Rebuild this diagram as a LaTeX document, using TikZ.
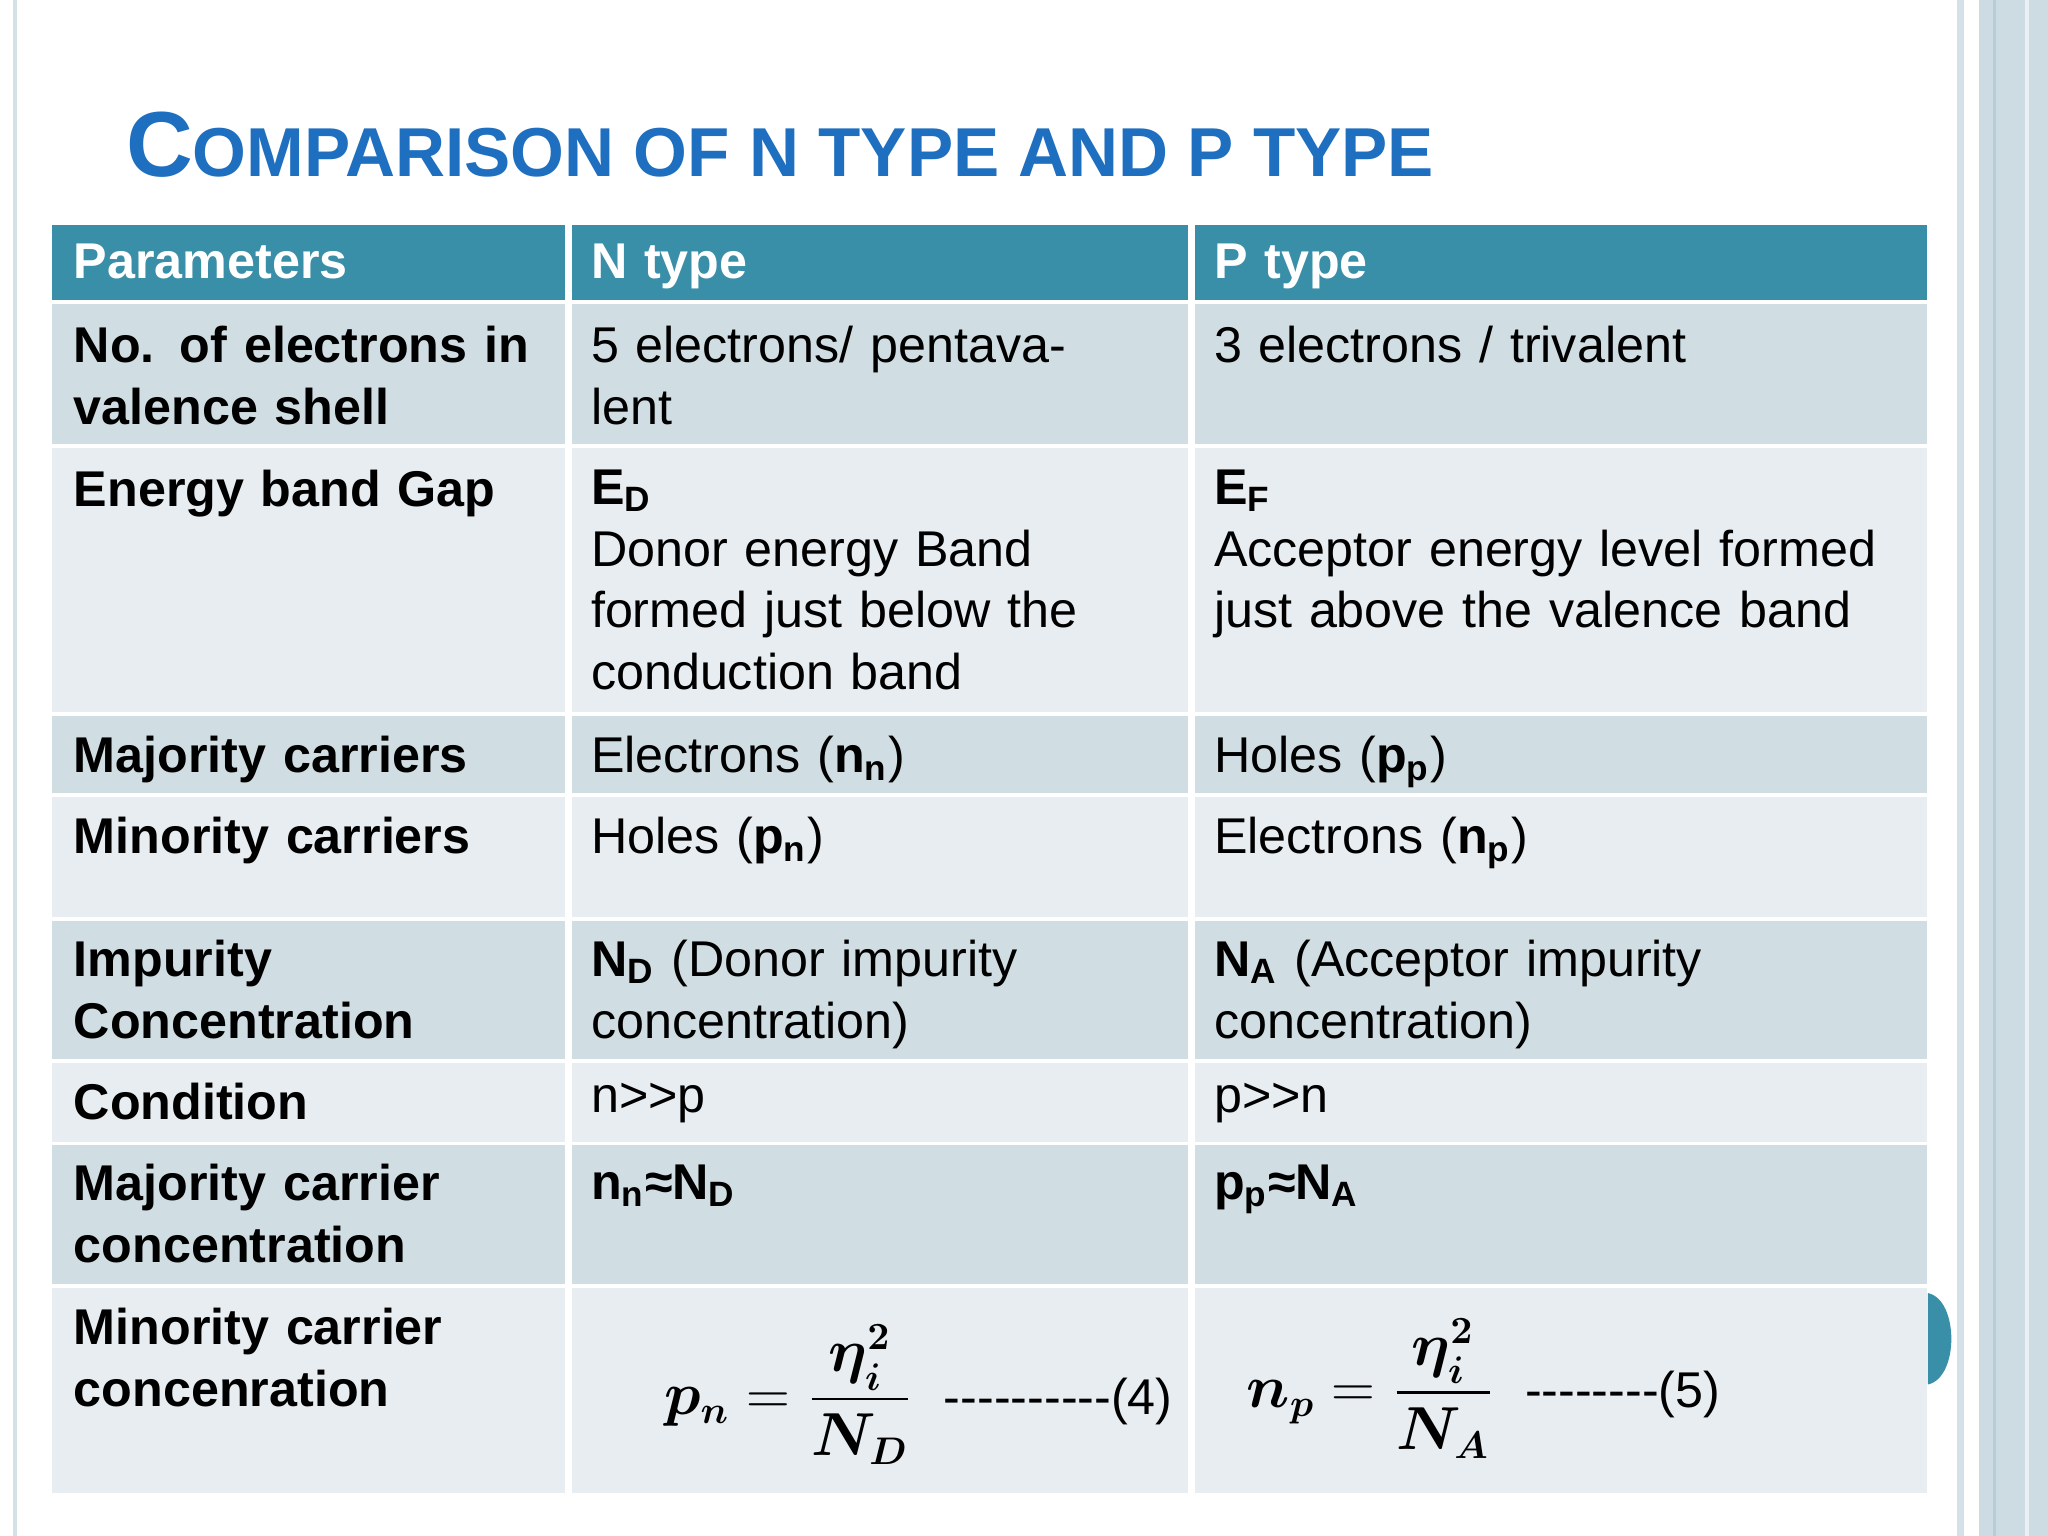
\documentclass[tikz,border=0pt]{standalone}
\usepackage{fontspec}
\usepackage{amsmath}
\setmainfont{Liberation Sans}
\definecolor{hdr}{HTML}{3A8FA8}
\definecolor{rowA}{HTML}{D0DEE3}
\definecolor{rowB}{HTML}{E8EDF1}
\definecolor{ttl}{HTML}{1F6FC0}
\definecolor{edge}{HTML}{B8CDD5}
\newcommand{\dsh}[1]{\foreach \k in {1,...,#1}{-\kern0pt}}
\begin{document}
\begin{tikzpicture}[x=0.013061cm,y=-0.013061cm,
  cell/.style={anchor=north west,inner sep=0pt,align=left,font=\fontsize{14.3pt}{17.6pt}\selectfont,text width=#1},
  cell/.default=5.2cm,
  hcell/.style={cell,text=white,font=\fontsize{14.3pt}{17.6pt}\selectfont\bfseries},
  pcell/.style={cell=4.7cm,font=\fontsize{14.3pt}{17.6pt}\selectfont\bfseries}]
\useasboundingbox[fill=white] (0,0) rectangle (1568,1176);
% right edge decoration
\fill[edge!60] (1498,0) rectangle (1504,1176);
\fill[edge!70] (1515,0) rectangle (1568,1176);
\draw[edge,line width=1pt] (1527,0) -- (1527,1176);
\draw[white!70!edge,line width=1pt] (1552,0) -- (1552,1176);
\fill[edge!60] (10,0) rectangle (13,1176);
\fill[hdr] (1476,990) .. controls (1500,995) and (1500,1055) .. (1476,1060) -- cycle;
% title
\node[anchor=base west,inner sep=0pt,text=ttl,font=\bfseries] (title) at (96,135)
  {{\fontsize{26.3pt}{28pt}\selectfont C}{\fontsize{19.7pt}{22pt}\selectfont OMPARISON OF N TYPE AND P TYPE}};
% rows
\fill[hdr] (40,172) rectangle (1475,230);
\foreach \a/\b/\c in {233/340/rowA,343/545/rowB,548/607/rowA,610/702/rowB,705/811/rowA,814/874/rowB,877/983/rowA,986/1143/rowB}
  \fill[\c] (40,\a) rectangle (1475,\b);
\draw[white,line width=2pt] (435,172) -- (435,1143) (912,172) -- (912,1143);
% header
\node[hcell] (h1) at (56,186) {Parameters};
\node[hcell] (h2) at (452,186) {N type};
\node[hcell] (h3) at (929,186) {P type};
% row 1
\node[pcell] (a1) at (56,249) {No. of electrons in valence shell};
\node[cell] (b1) at (452,249) {5 electrons/ pentavalent};
\node[cell] (c1) at (929,249) {3 electrons / trivalent};
% row 2
\node[pcell] (a2) at (56,359) {Energy band Gap};
\node[cell] (b2) at (452,359) {\textbf{E\textsubscript{D}}\\Donor energy Band formed just below the conduction band};
\node[cell=6.9cm] (c2) at (929,359) {\textbf{E\textsubscript{F}}\\Acceptor energy level formed just above the valence band};
% row 3
\node[pcell] (a3) at (56,563) {Majority carriers};
\node[cell] (b3) at (452,563) {Electrons (\textbf{n\textsubscript{n}})};
\node[cell] (c3) at (929,563) {Holes (\textbf{p\textsubscript{p}})};
% row 4
\node[pcell] (a4) at (56,625) {Minority carriers};
\node[cell] (b4) at (452,625) {Holes (\textbf{p\textsubscript{n}})};
\node[cell] (c4) at (929,625) {Electrons (\textbf{n\textsubscript{p}})};
% row 5
\node[pcell] (a5) at (56,719) {Impurity\\Concentration};
\node[cell] (b5) at (452,719) {\textbf{N\textsubscript{D}} (Donor impurity concentration)};
\node[cell] (c5) at (929,719) {\textbf{N\textsubscript{A}} (Acceptor impurity concentration)};
% row 6
\node[pcell] (a6) at (56,829) {Condition};
\node[cell] (b6) at (452,829) {n>{}>p};
\node[cell] (c6) at (929,829) {p>{}>n};
% row 7
\node[pcell] (a7) at (56,891) {Majority carrier concentration};
\node[cell] (b7) at (452,891) {\textbf{n\textsubscript{n}≈N\textsubscript{D}}};
\node[cell] (c7) at (929,891) {\textbf{p\textsubscript{p}≈N\textsubscript{A}}};
% row 8
\node[pcell] (a8) at (56,1001) {Minority carrier concenration};
\node[anchor=west,inner sep=0pt,font=\fontsize{16pt}{18pt}\selectfont] (b8) at (508,1068)
  {$\boldsymbol{p_n}=\dfrac{\boldsymbol{\eta_i^2}}{\boldsymbol{N_D}}$\ \ {\fontsize{14.3pt}{17pt}\selectfont -{}-{}-{}-{}-{}-{}-{}-{}-{}-(4)}};
\node[anchor=west,inner sep=0pt,font=\fontsize{16pt}{18pt}\selectfont] (c8) at (954,1063)
  {$\boldsymbol{n_p}=\dfrac{\boldsymbol{\eta_i^2}}{\boldsymbol{N_A}}$\ \ {\fontsize{14.3pt}{17pt}\selectfont -{}-{}-{}-{}-{}-{}-{}-(5)}};
\end{tikzpicture}
\end{document}
